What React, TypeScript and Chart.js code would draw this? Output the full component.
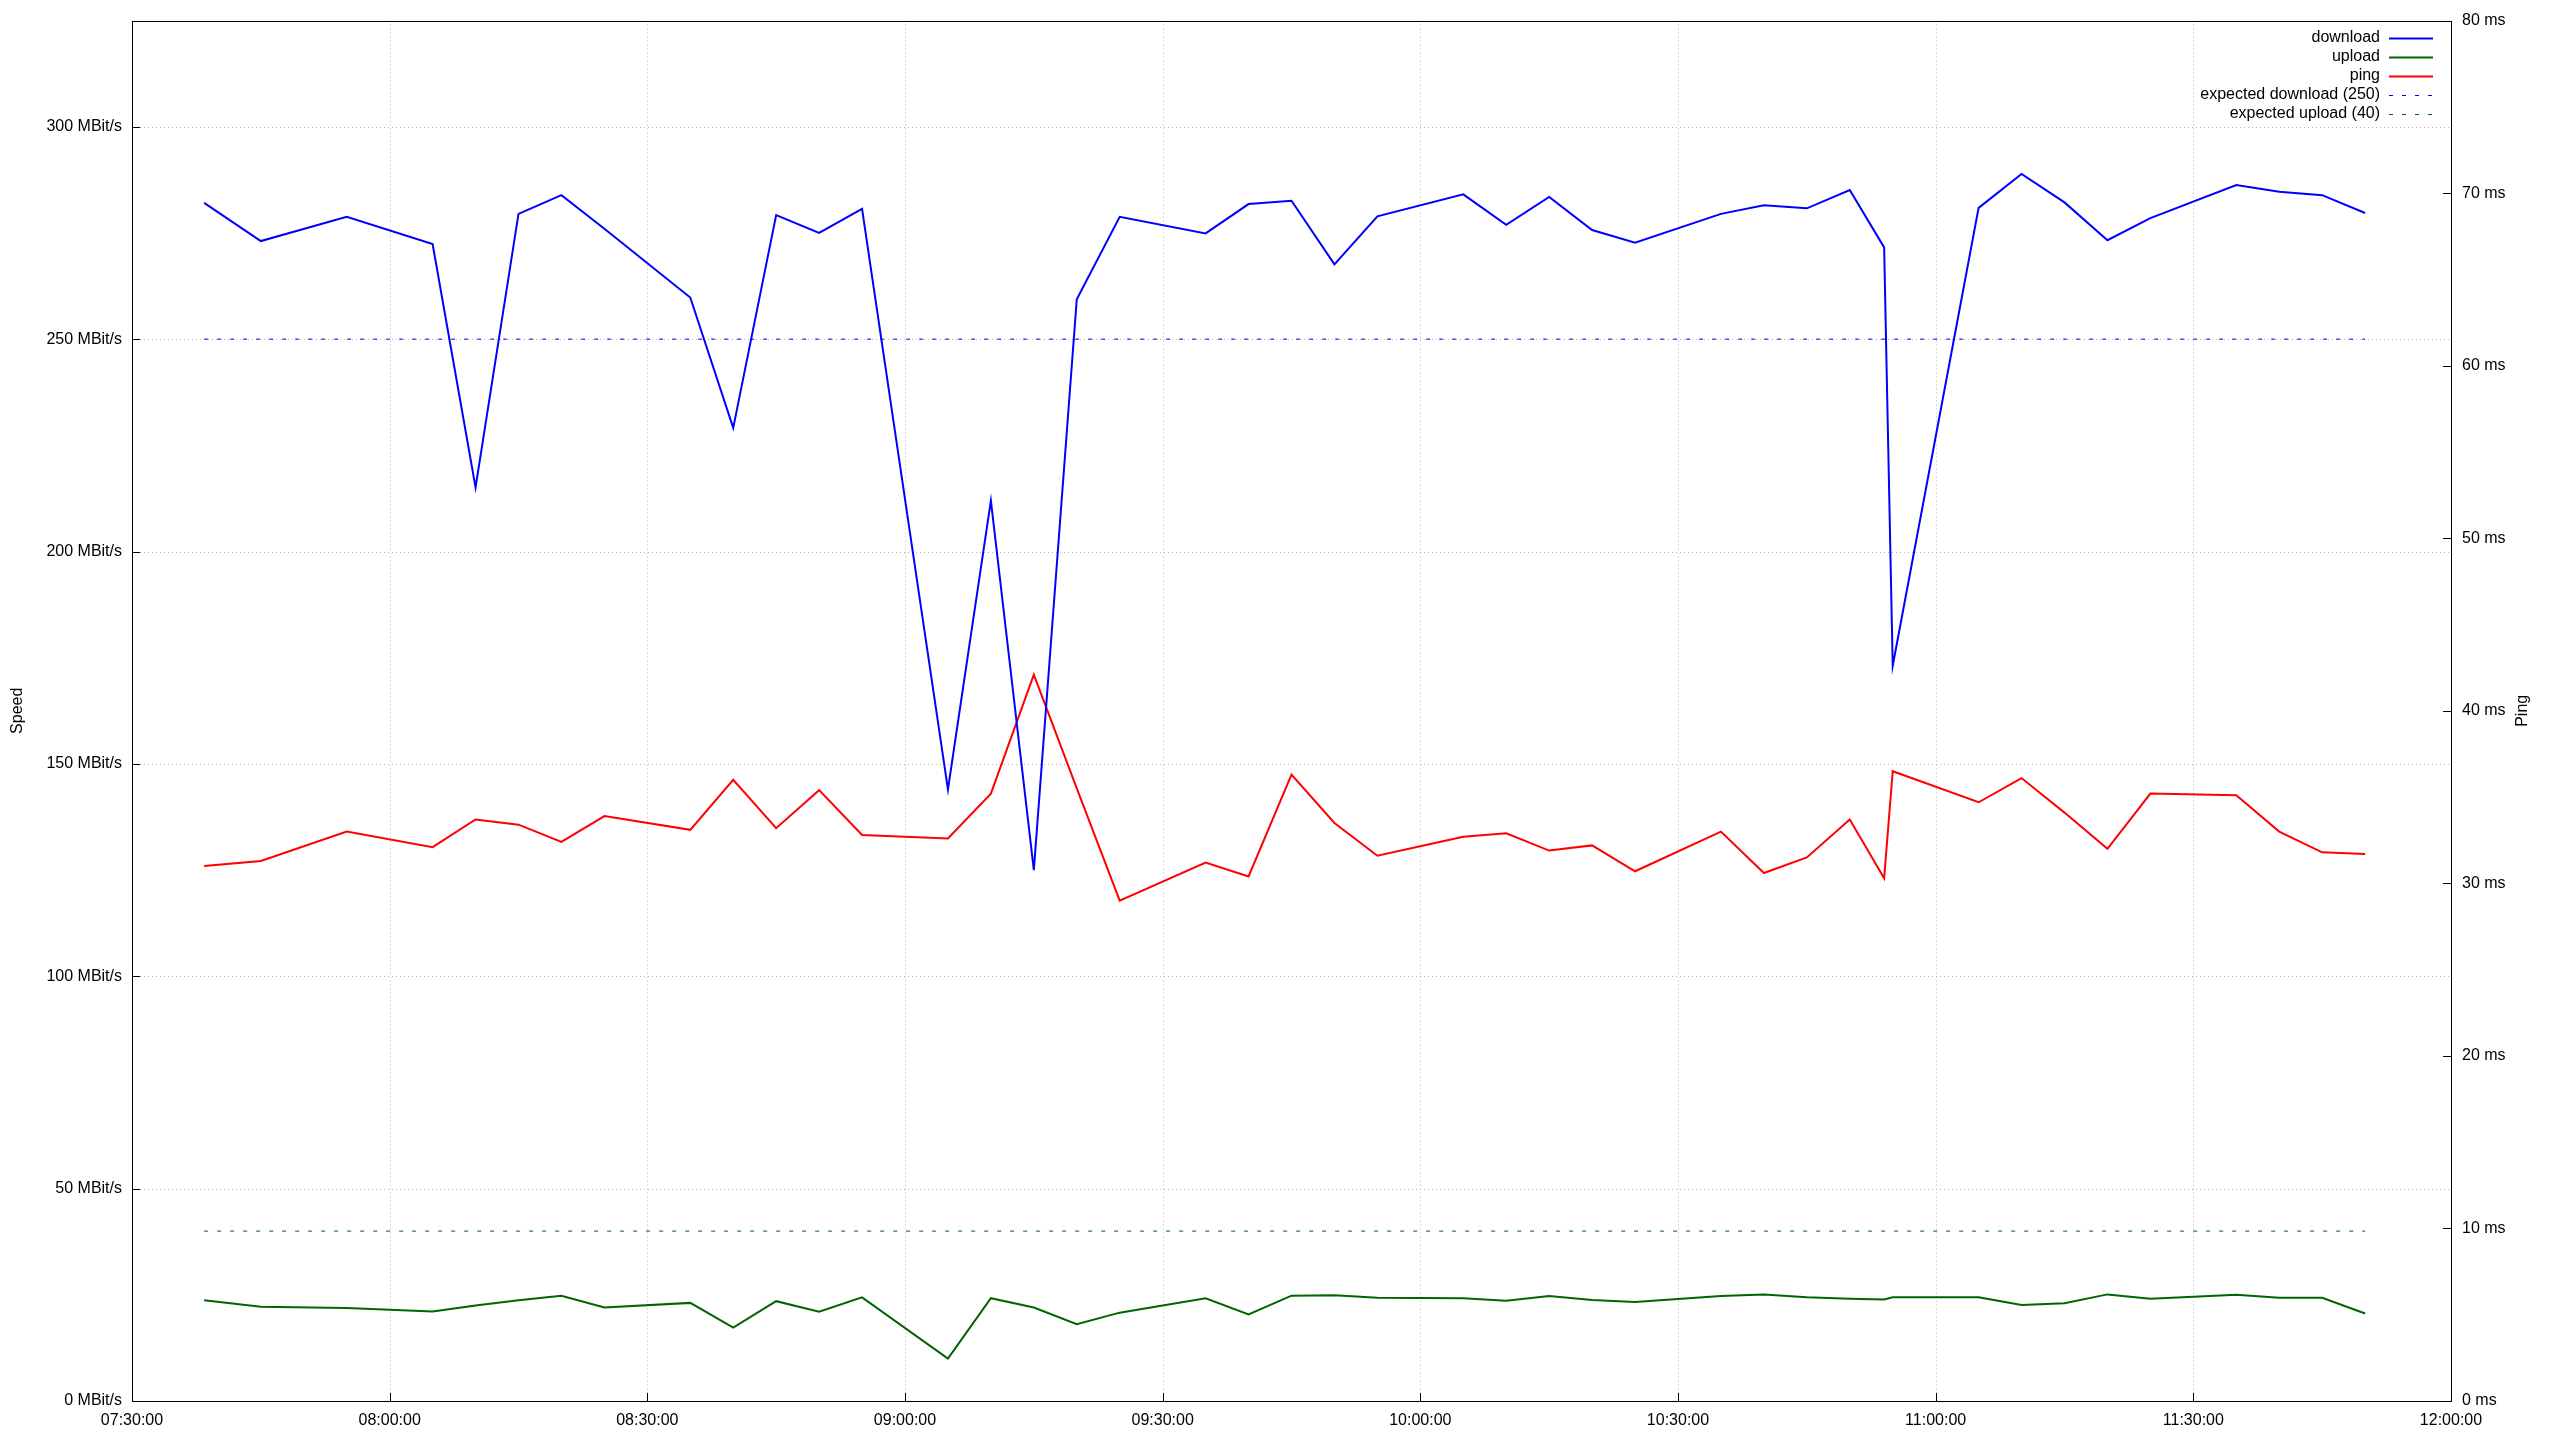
import React, { useEffect, useRef } from "react";
import { Chart, registerables } from "chart.js";

Chart.register(...registerables);

// ---- data ----
const TIMES = [
  "07:38:24", "07:45:00", "07:55:00", "08:05:00", "08:10:00", "08:15:00", "08:20:00", "08:25:00",
  "08:35:00", "08:40:00", "08:45:00", "08:50:00", "08:55:00", "09:05:00", "09:10:00", "09:15:00",
  "09:20:00", "09:25:00", "09:35:00", "09:40:00", "09:45:00", "09:50:00", "09:55:00", "10:05:00",
  "10:10:00", "10:15:00", "10:20:00", "10:25:00", "10:35:00", "10:40:00", "10:45:00", "10:50:00",
  "10:54:00", "10:55:00", "11:05:00", "11:10:00", "11:15:00", "11:20:00", "11:25:00", "11:35:00",
  "11:40:00", "11:45:00", "11:50:00",
];

const DOWNLOAD = [
  282.1, 273.1, 278.8, 272.4, 215.1, 279.5, 283.9, 276.0,
  259.8, 229.1, 279.2, 275.0, 280.7, 144.0, 212.0, 125.0,
  259.4, 278.8, 274.9, 281.8, 282.6, 267.6, 278.9, 284.1,
  276.9, 283.5, 275.7, 272.7, 279.5, 281.5, 280.8, 285.1,
  271.6, 173.1, 280.9, 288.9, 282.2, 273.3, 278.5, 286.3,
  284.7, 283.9, 279.7,
];

const UPLOAD = [
  23.7, 22.2, 21.9, 21.1, 22.5, 23.7, 24.8, 22.0,
  23.1, 17.3, 23.5, 21.0, 24.4, 10.0, 24.2, 22.0,
  18.1, 20.8, 24.2, 20.4, 24.8, 24.9, 24.3, 24.2,
  23.6, 24.7, 23.8, 23.3, 24.7, 25.1, 24.4, 24.1,
  23.9, 24.4, 24.4, 22.6, 23.0, 25.1, 24.1, 25.0,
  24.3, 24.3, 20.6,
];

const PING = [
  31.0, 31.3, 33.0, 32.1, 33.7, 33.4, 32.4, 33.9,
  33.1, 36.0, 33.2, 35.4, 32.8, 32.6, 35.2, 42.1,
  35.5, 29.0, 31.2, 30.4, 36.3, 33.5, 31.6, 32.7,
  32.9, 31.9, 32.2, 30.7, 33.0, 30.6, 31.5, 33.7,
  30.3, 36.5, 34.7, 36.1, 34.1, 32.0, 35.2, 35.1,
  33.0, 31.8, 31.7,
];

const EXPECTED_DOWNLOAD = 250;
const EXPECTED_UPLOAD = 40;

const X_MIN = "07:30:00";
const X_MAX = "12:00:00";
const X_STEP_MIN = 30;
const SPEED_MAX = 325;
const SPEED_STEP = 50;
const PING_MAX = 80;
const PING_STEP = 10;

const SERIES_LABELS = ["download", "upload", "ping", "expected download (250)", "expected upload (40)"];

const FONT = "'Liberation Sans', Arial, sans-serif";

function toSec(t: string): number {
  const [h, m, s] = t.split(":").map(Number);
  return h * 3600 + m * 60 + s;
}
function fmt(sec: number): string {
  const h = Math.floor(sec / 3600);
  const m = Math.floor((sec % 3600) / 60);
  const s = Math.floor(sec % 60);
  const p = (n: number) => String(n).padStart(2, "0");
  return `${p(h)}:${p(m)}:${p(s)}`;
}

const pts = (vals: number[]) => vals.map((v, i) => ({ x: toSec(TIMES[i]), y: v }));
const flat = (v: number) => [
  { x: toSec(TIMES[0]), y: v },
  { x: toSec(TIMES[TIMES.length - 1]), y: v },
];

const framePlugin = {
  id: "frame",
  beforeDatasetsDraw(chart: any) {
    const { ctx, chartArea: a, scales } = chart;
    ctx.save();
    ctx.strokeStyle = "#b4b4b4";
    ctx.lineWidth = 1;
    ctx.setLineDash([1, 3]);
    for (const t of scales.x.ticks) {
      const x = Math.round(scales.x.getPixelForValue(t.value)) + 0.5;
      if (x <= a.left + 1 || x >= a.right - 1) continue;
      ctx.beginPath();
      ctx.moveTo(x, a.top);
      ctx.lineTo(x, a.bottom);
      ctx.stroke();
    }
    for (const t of scales.y.ticks) {
      const y = Math.round(scales.y.getPixelForValue(t.value)) + 0.5;
      if (y >= a.bottom - 1 || y <= a.top + 1) continue;
      ctx.beginPath();
      ctx.moveTo(a.left, y);
      ctx.lineTo(a.right, y);
      ctx.stroke();
    }
    ctx.restore();
  },
  afterDatasetsDraw(chart: any) {
    const { ctx, chartArea: a, scales } = chart;
    ctx.save();
    ctx.setLineDash([]);
    ctx.strokeStyle = "#000";
    ctx.lineWidth = 1;
    // border
    ctx.strokeRect(Math.round(a.left) + 0.5, Math.round(a.top) + 0.5, Math.round(a.right - a.left), Math.round(a.bottom - a.top));
    // inward ticks
    const TL = 8;
    ctx.beginPath();
    for (const t of scales.x.ticks) {
      const x = Math.round(scales.x.getPixelForValue(t.value)) + 0.5;
      ctx.moveTo(x, a.bottom);
      ctx.lineTo(x, a.bottom - TL);
    }
    for (const t of scales.y.ticks) {
      const y = Math.round(scales.y.getPixelForValue(t.value)) + 0.5;
      ctx.moveTo(a.left, y);
      ctx.lineTo(a.left + TL, y);
    }
    for (const t of scales.y2.ticks) {
      const y = Math.round(scales.y2.getPixelForValue(t.value)) + 0.5;
      ctx.moveTo(a.right, y);
      ctx.lineTo(a.right - TL, y);
    }
    ctx.stroke();

    // axis titles
    ctx.fillStyle = "#000";
    ctx.font = `16px ${FONT}`;
    ctx.textAlign = "center";
    ctx.textBaseline = "middle";
    const cy = (a.top + a.bottom) / 2;
    ctx.save();
    ctx.translate(18, cy);
    ctx.rotate(-Math.PI / 2);
    ctx.fillText("Speed", 0, 0);
    ctx.restore();
    ctx.save();
    ctx.translate(2523, cy);
    ctx.rotate(-Math.PI / 2);
    ctx.fillText("Ping", 0, 0);
    ctx.restore();

    // legend (top right, inside plot)
    const textRight = a.right - 71;
    const lineX0 = a.right - 62;
    const lineX1 = a.right - 18;
    const y0 = a.top + 17;
    const rowH = 19;
    ctx.textAlign = "right";
    chart.data.datasets.forEach((ds: any, i: number) => {
      const y = y0 + i * rowH;
      ctx.fillStyle = "#000";
      ctx.fillText(ds.label, textRight, y);
      ctx.beginPath();
      ctx.strokeStyle = ds.borderColor;
      ctx.lineWidth = ds.borderWidth;
      ctx.setLineDash(ds.borderDash || []);
      ctx.moveTo(lineX0, Math.round(y) + 0.5);
      ctx.lineTo(lineX1, Math.round(y) + 0.5);
      ctx.stroke();
    });
    ctx.restore();
  },
};

export default function App() {
  const ref = useRef<HTMLCanvasElement | null>(null);

  useEffect(() => {
    if (!ref.current) return;
    const tickFont = { family: FONT, size: 16 };
    const chart = new Chart(ref.current, {
      type: "line",
      data: {
        datasets: [
          { label: SERIES_LABELS[0], data: pts(DOWNLOAD), borderColor: "#0000ff", borderWidth: 2, yAxisID: "y", pointRadius: 0, tension: 0 },
          { label: SERIES_LABELS[1], data: pts(UPLOAD), borderColor: "#006400", borderWidth: 2, yAxisID: "y", pointRadius: 0, tension: 0 },
          { label: SERIES_LABELS[2], data: pts(PING), borderColor: "#ff0000", borderWidth: 2, yAxisID: "y2", pointRadius: 0, tension: 0 },
          { label: SERIES_LABELS[3], data: flat(EXPECTED_DOWNLOAD), borderColor: "#0000ff", borderWidth: 1, borderDash: [4, 9], yAxisID: "y", pointRadius: 0, tension: 0 },
          { label: SERIES_LABELS[4], data: flat(EXPECTED_UPLOAD), borderColor: "#006400", borderWidth: 1, borderDash: [4, 9], yAxisID: "y", pointRadius: 0, tension: 0 },
        ] as any,
      },
      options: {
        animation: false,
        responsive: false,
        maintainAspectRatio: false,
        devicePixelRatio: 1,
        layout: { padding: { top: 20, left: 0, right: 0, bottom: 0 } },
        plugins: { legend: { display: false }, tooltip: { enabled: false } },
        elements: { line: { borderJoinStyle: "miter" } },
        scales: {
          x: {
            type: "linear",
            position: "bottom",
            min: toSec(X_MIN),
            max: toSec(X_MAX),
            grid: { display: false, drawTicks: false },
            border: { display: false },
            ticks: {
              stepSize: X_STEP_MIN * 60,
              autoSkip: false,
              maxRotation: 0,
              padding: 10,
              color: "#000",
              font: tickFont,
              callback: (v: any) => fmt(Number(v)),
            },
            afterFit: (s: any) => { s.height = 39; },
          },
          y: {
            type: "linear",
            position: "left",
            min: 0,
            max: SPEED_MAX,
            grid: { display: false, drawTicks: false },
            border: { display: false },
            ticks: {
              stepSize: SPEED_STEP,
              includeBounds: false,
              padding: 10,
              color: "#000",
              font: tickFont,
              callback: (v: any) => `${v} MBit/s`,
            },
            afterBuildTicks: (s: any) => { s.ticks = s.ticks.filter((t: any) => t.value % SPEED_STEP === 0); },
            afterFit: (s: any) => { s.width = 132; },
          },
          y2: {
            type: "linear",
            position: "right",
            min: 0,
            max: PING_MAX,
            grid: { display: false, drawTicks: false },
            border: { display: false },
            ticks: {
              stepSize: PING_STEP,
              padding: 11,
              color: "#000",
              font: tickFont,
              callback: (v: any) => `${v} ms`,
            },
            afterFit: (s: any) => { s.width = 109; },
          },
        },
      } as any,
      plugins: [framePlugin],
    });
    return () => chart.destroy();
  }, []);

  return (
    <div style={{ position: "fixed", left: 0, top: 0, width: 2560, height: 1440, background: "#fff" }}>
      <canvas ref={ref} width={2560} height={1440} style={{ display: "block", width: 2560, height: 1440 }} />
    </div>
  );
}
